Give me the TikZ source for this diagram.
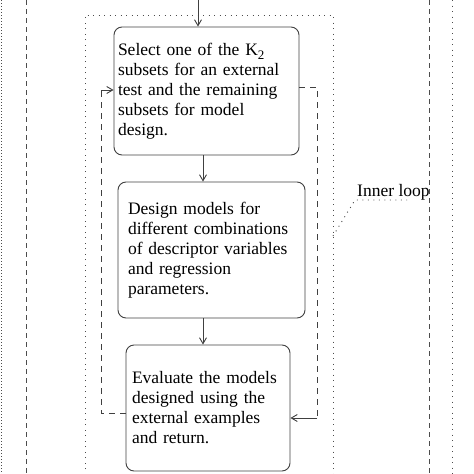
\documentclass[tikz,border=0pt]{standalone}
\usepackage{fontspec}
\setmainfont{Liberation Serif}
\usetikzlibrary{arrows.meta}
\newcommand{\mysubtwo}{\raisebox{-4pt}{\fontsize{13}{13}\selectfont 2}}
\begin{document}
\begin{tikzpicture}[x=1pt,y=-1pt,
  ln/.style={line width=0.9pt,draw=black!75},
  box/.style={ln,rounded corners=8pt,align=left,inner ysep=0pt,
    font=\fontsize{17.5}{20}\selectfont},
  arr/.style={ln,-{Straight Barb[length=6pt,width=7pt]}},
  loopline/.style={ln,dash pattern=on 6pt off 5pt},
  dotline/.style={line width=0.9pt,draw=black!70,dash pattern=on 1pt off 4.5pt},
  dashv/.style={line width=0.9pt,draw=black!70,dash pattern=on 5pt off 4pt},
  lbl/.style={font=\fontsize{17.5}{20}\selectfont,inner sep=0pt,anchor=base west}]
\useasboundingbox (0,0) rectangle (474,474);
% frames
\draw[line width=0.9pt,draw=black!70,dash pattern=on 1pt off 2pt] (1,0) -- (1,474);
\draw[dashv] (26,0) -- (26,474);
\draw[dashv] (429,0) -- (429,474);
\draw[dotline] (452,0) -- (452,474);
\draw[dotline] (85,480) -- (85,15) -- (333,15) -- (333,480);
% boxes
\node[box,minimum width=185pt,minimum height=128pt,text width=177pt,inner xsep=4pt] (b1) at (206.5,91)
  {Select one of the K\mysubtwo\\subsets for an external\\test and the remaining\\subsets for model\\design.};
\node[box,minimum width=187pt,minimum height=136pt,text width=167pt,inner xsep=10pt] (b2) at (211.5,250)
  {Design models for\\different combinations\\of descriptor variables\\and regression\\parameters.};
\node[box,minimum width=164pt,minimum height=126pt,text width=152pt,inner xsep=6pt] (b3) at (208,408)
  {Evaluate the models\\designed using the\\external examples\\and return.};
% arrows
\coordinate (top) at (198,0);
\coordinate (cx) at (203,0);
\draw[arr] (top) -- (top |- b1.north);
\draw[arr] (b1.south -| cx) -- (b2.north -| cx);
\draw[arr] (b2.south -| cx) -- (b3.north -| cx);
% loop
\coordinate (lA) at (101,413);
\coordinate (lB) at (101,90);
\coordinate (rA) at (317,87);
\coordinate (rB) at (317,418);
\draw[loopline] (b3.west |- lA) -- (lA) -- (lB) -- (107,90);
\draw[arr] (lB) -- (b1.west |- lB);
\draw[loopline] (b1.east |- rA) -- (rA) -- (rB) -- (311,418);
\draw[arr] (rB) -- (b3.east |- rB);
% label
\node[lbl] (il) at (357,196) {Inner loop};
\coordinate (ilA) at (355,200);
\coordinate (ilB) at (333,236);
\draw[dotline] (ilB) -- (ilA) -- (407,200);
\end{tikzpicture}
\end{document}
